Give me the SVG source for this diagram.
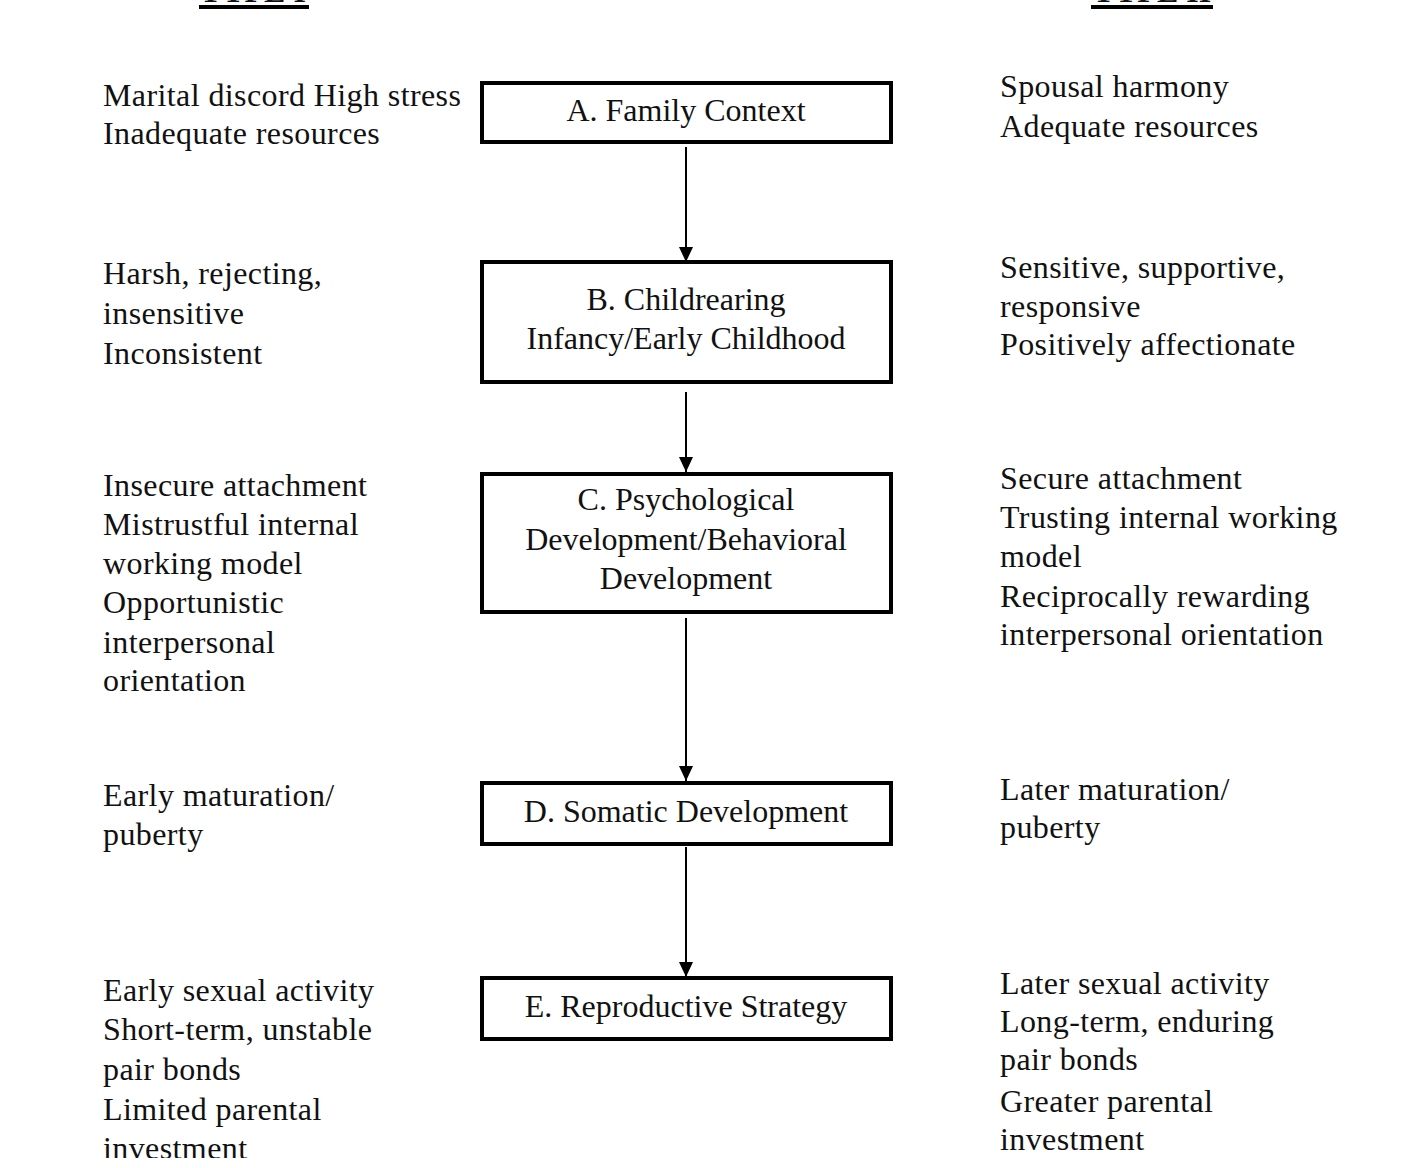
<svg xmlns="http://www.w3.org/2000/svg" width="1413" height="1168" viewBox="0 0 1413 1168">
<style>
  .box { fill: #fff; stroke: #000; stroke-width: 4; }
  .bt { font-family: "Liberation Serif", "Times New Roman", serif; font-size: 32px; fill: #111; text-anchor: middle; }
  .st { font-family: "Liberation Serif", "Times New Roman", serif; font-size: 32px; fill: #111; letter-spacing: 0.4px; }
  .hd { font-family: "Liberation Serif", "Times New Roman", serif; font-size: 32px; fill: #111; text-anchor: middle; font-weight: bold; }
  .conn { stroke: #000; stroke-width: 2; fill: none; marker-end: url(#arrow); }
</style>
<defs>
  <marker id="arrow" markerUnits="userSpaceOnUse" markerWidth="16" markerHeight="16" refX="15" refY="7" orient="auto">
    <path d="M0,0 L15,7 L0,14 z" fill="#000"/>
  </marker>
</defs>
<rect x="0" y="0" width="1413" height="1168" fill="#fff"/>

<g id="headers">
  <text class="hd" x="253" y="2">TYPE I</text>
  <rect x="199" y="5" width="110" height="4" fill="#000"/>
  <text class="hd" x="1152" y="2">TYPE II</text>
  <rect x="1091" y="5" width="122" height="4" fill="#000"/>
</g>

<g id="connectors">
  <line class="conn" x1="686" y1="147" x2="686" y2="262"/>
  <line class="conn" x1="686" y1="392" x2="686" y2="472"/>
  <line class="conn" x1="686" y1="618" x2="686" y2="781"/>
  <line class="conn" x1="686" y1="847" x2="686" y2="977"/>
</g>

<g id="nodeA">
  <rect class="box" x="482" y="83" width="409" height="59"/>
  <text class="bt" x="686" y="121">A. Family Context</text>
</g>
<g id="nodeB">
  <rect class="box" x="482" y="262" width="409" height="120"/>
  <text class="bt" x="686" y="310">B. Childrearing</text>
  <text class="bt" x="686" y="349">Infancy/Early Childhood</text>
</g>
<g id="nodeC">
  <rect class="box" x="482" y="474" width="409" height="138"/>
  <text class="bt" x="686" y="510">C. Psychological</text>
  <text class="bt" x="686" y="550">Development/Behavioral</text>
  <text class="bt" x="686" y="589">Development</text>
</g>
<g id="nodeD">
  <rect class="box" x="482" y="783" width="409" height="61"/>
  <text class="bt" x="686" y="822">D. Somatic Development</text>
</g>
<g id="nodeE">
  <rect class="box" x="482" y="978" width="409" height="61"/>
  <text class="bt" x="686" y="1017">E. Reproductive Strategy</text>
</g>

<g id="left-A">
  <text class="st" x="103" y="106">Marital discord High stress</text>
  <text class="st" x="103" y="144">Inadequate resources</text>
</g>
<g id="left-B">
  <text class="st" x="103" y="284">Harsh, rejecting,</text>
  <text class="st" x="103" y="324">insensitive</text>
  <text class="st" x="103" y="364">Inconsistent</text>
</g>
<g id="left-C">
  <text class="st" x="103" y="496">Insecure attachment</text>
  <text class="st" x="103" y="535">Mistrustful internal</text>
  <text class="st" x="103" y="574">working model</text>
  <text class="st" x="103" y="613">Opportunistic</text>
  <text class="st" x="103" y="653">interpersonal</text>
  <text class="st" x="103" y="691">orientation</text>
</g>
<g id="left-D">
  <text class="st" x="103" y="806">Early maturation/</text>
  <text class="st" x="103" y="845">puberty</text>
</g>
<g id="left-E">
  <text class="st" x="103" y="1001">Early sexual activity</text>
  <text class="st" x="103" y="1040">Short-term, unstable</text>
  <text class="st" x="103" y="1080">pair bonds</text>
  <text class="st" x="103" y="1120">Limited parental</text>
  <text class="st" x="103" y="1159">investment</text>
</g>

<g id="right-A">
  <text class="st" x="1000" y="97">Spousal harmony</text>
  <text class="st" x="1000" y="137">Adequate resources</text>
</g>
<g id="right-B">
  <text class="st" x="1000" y="278">Sensitive, supportive,</text>
  <text class="st" x="1000" y="317">responsive</text>
  <text class="st" x="1000" y="355">Positively affectionate</text>
</g>
<g id="right-C">
  <text class="st" x="1000" y="489">Secure attachment</text>
  <text class="st" x="1000" y="528">Trusting internal working</text>
  <text class="st" x="1000" y="567">model</text>
  <text class="st" x="1000" y="607">Reciprocally rewarding</text>
  <text class="st" x="1000" y="645">interpersonal orientation</text>
</g>
<g id="right-D">
  <text class="st" x="1000" y="800">Later maturation/</text>
  <text class="st" x="1000" y="838">puberty</text>
</g>
<g id="right-E">
  <text class="st" x="1000" y="994">Later sexual activity</text>
  <text class="st" x="1000" y="1032">Long-term, enduring</text>
  <text class="st" x="1000" y="1070">pair bonds</text>
  <text class="st" x="1000" y="1112">Greater parental</text>
  <text class="st" x="1000" y="1150">investment</text>
</g>

<rect x="0" y="1158" width="1413" height="10" fill="#fff"/>
</svg>
